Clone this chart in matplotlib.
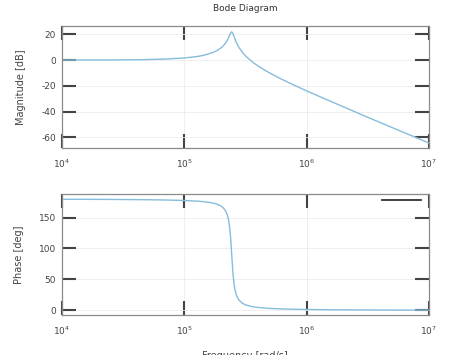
import matplotlib
matplotlib.use('Agg')
import matplotlib.pyplot as plt
from matplotlib.lines import Line2D

plt.rcParams['axes.unicode_minus'] = False

# values
freq = [1e4, 2e4, 3e4, 5e4, 7e4, 1e5, 1.2e5, 1.35e5, 1.5e5, 1.7e5, 1.85e5, 2e5, 2.1e5,
        2.2e5, 2.25e5, 2.3e5, 2.35e5, 2.4e5, 2.45e5, 2.5e5, 2.55e5, 2.6e5, 2.65e5, 2.7e5,
        2.8e5, 3e5, 3.2e5, 3.5e5, 3.8e5, 4e5, 4.5e5, 5e5, 6e5, 7e5, 8e5, 1e6, 1.5e6,
        2e6, 3e6, 5e6, 7e6, 1e7]
mag_db = [0.0, 0.06, 0.13, 0.37, 0.74, 1.6, 2.4, 3.1, 4.1, 5.65, 7.25, 9.4, 11.2,
          13.7, 15.2, 17.0, 19.1, 21.1, 21.9, 20.8, 18.6, 16.4, 14.4, 12.7,
          9.9, 5.9, 2.9, -0.35, -3.0, -4.4, -7.5, -10.0, -14.0, -17.1, -19.7, -23.9, -31.2,
          -36.3, -43.5, -52.4, -58.2, -64.4]
phase_deg = [179.8, 179.6, 179.4, 179.0, 178.6, 177.8, 177.0, 176.4, 175.5, 173.9, 172.0, 168.9, 165.5,
             159.7, 154.9, 147.7, 136.2, 117.3, 90.0, 63.2, 44.9, 33.9, 27.0, 22.4,
             16.6, 11.1, 8.4, 6.3, 5.0, 4.5, 3.5, 2.95, 2.25, 1.8, 1.55, 1.2, 0.77,
             0.57, 0.38, 0.23, 0.16, 0.11]

line_col = '#86bcdc'
txt_col = '#444444'

fig = plt.figure(figsize=(4.74, 3.55), dpi=100)
ax1 = fig.add_axes([0.130, 0.583, 0.775, 0.344])
ax2 = fig.add_axes([0.130, 0.113, 0.775, 0.340])

for ax in (ax1, ax2):
    ax.set_xscale('log')
    ax.set_xlim(1e4, 1e7)
    ax.set_xticks([1e4, 1e5, 1e6, 1e7])
    ax.minorticks_off()
    ax.grid(True, color='#ececec', lw=0.6)
    ax.tick_params(direction='in', length=10, width=1.5, color='#444444',
                   top=True, right=True, labelsize=6.5, labelcolor=txt_col)
    ax.tick_params(axis='x', pad=7)
    ax.tick_params(axis='y', pad=4)
    for s in ax.spines.values():
        s.set_color('#8a8a8a')
        s.set_linewidth(0.9)

ax1.plot(freq, mag_db, color=line_col, lw=1)
ax1.set_ylim(-68.3, 26.5)
ax1.set_yticks([20, 0, -20, -40, -60])
ax1.set_ylabel('Magnitude [dB]', fontsize=7, color=txt_col, labelpad=11)
ax1.set_title('Bode Diagram', fontsize=6.5, color='#333333', pad=11)

ax2.plot(freq, phase_deg, color=line_col, lw=1)
ax2.set_ylim(-7.6, 188)
ax2.set_yticks([0, 50, 100, 150])
ax2.set_ylabel('Phase [deg]', fontsize=7, color=txt_col, labelpad=11)
ax2.set_xlabel('Frequency [rad/s]', fontsize=7, color=txt_col, labelpad=10)

# empty legend entry, as in the reference
ax2.legend([Line2D([], [], color='#333333', lw=1.3)], [''], loc='upper right',
           bbox_to_anchor=(1 - 8 / 367, 1), frameon=False, handlelength=2.8,
           borderaxespad=0, borderpad=0, handletextpad=0)

fig.savefig('out.png', dpi=100)
